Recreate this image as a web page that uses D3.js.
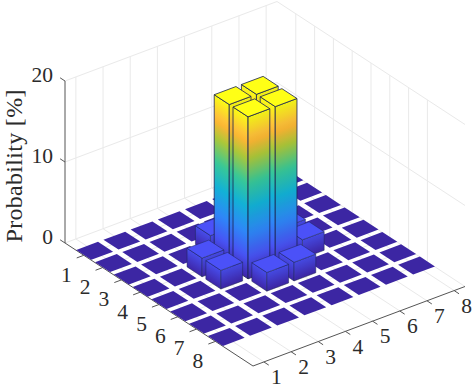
<!DOCTYPE html>
<html>
<head>
<meta charset="utf-8">
<script src="https://cdn.jsdelivr.net/npm/d3@7"></script>
<style>
  html, body { margin: 0; padding: 0; background: #fff; }
  svg { display: block; }
  text { font-family: "Liberation Serif", serif; fill: #2b2b2b; }
</style>
</head>
<body>
<div id="chart"></div>
<script>
const xTicks = [1, 2, 3, 4, 5, 6, 7, 8];
const yTicks = [1, 2, 3, 4, 5, 6, 7, 8];
const zTicks = [0, 10, 20];
const zLabel = 'Probability [%]';

// probability per cell, rows are x = 1..8, columns are y = 1..8
const probability = [
  [0.05, 0.05, 0.05, 0.05, 0.05, 0.05, 0.05, 0.05],
  [0.05, 0.05, 0.05, 0.05, 0.05, 0.05, 0.05, 0.05],
  [0.05, 0.05, 0.05, 2.3, 2.3, 0.05, 0.05, 0.05],
  [0.05, 0.05, 2.3, 20, 20, 2.3, 0.05, 0.05],
  [0.05, 0.05, 2.3, 20, 20, 2.3, 0.05, 0.05],
  [0.05, 0.05, 0.05, 2.3, 2.3, 0.05, 0.05, 0.05],
  [0.05, 0.05, 0.05, 0.05, 0.05, 0.05, 0.05, 0.05],
  [0.05, 0.05, 0.05, 0.05, 0.05, 0.05, 0.05, 0.05]
];

const parulaColors = ['#3e26a8', '#4852f4', '#2e87f7', '#12b1d6', '#37c897', '#abc739', '#fab733', '#fec338', '#f9fb15'];
const parulaLevels = [0, 2.6, 5.6, 8.8, 11.8, 14.8, 16.8, 17.6, 20];

const width = 474;
const height = 389;
const barWidth = 0.8;

const svg = d3.select('#chart').append('svg')
  .attr('width', width)
  .attr('height', height);
const defs = svg.append('defs');

// each data axis gives its share of the screen vector, added up in project()
const xSx = d3.scaleLinear().domain([0, 10]).range([0, 188]);
const xSy = d3.scaleLinear().domain([0, 10]).range([0, 123]);
const ySx = d3.scaleLinear().domain([0.6, 8.4]).range([0, 212]);
const ySy = d3.scaleLinear().domain([0.6, 8.4]).range([0, -79.5]);
const zS = d3.scaleLinear().domain([0, 20]).range([0, -162]);
const origin = [65, 243];

const parula = d3.scaleLinear()
  .domain(parulaLevels)
  .range(parulaColors)
  .interpolate(d3.interpolateRgb);

function project(x, y, z) {
  return [origin[0] + xSx(x) + ySx(y), origin[1] + xSy(x) + ySy(y) + zS(z)];
}

const line = d3.line();
const poly = pts => line(pts) + 'Z';

const xMin = 0, xMax = 10, yMin = 0.6, yMax = 8.4;

// grid on the two walls and the floor
const grid = svg.append('g')
  .attr('fill', 'none')
  .attr('stroke', '#e9e9e9')
  .attr('stroke-width', 1);

zTicks.forEach(z => {
  grid.append('path').attr('d', line([project(xMin, yMin, z), project(xMin, yMax, z), project(xMax, yMax, z)]));
});
xTicks.forEach(x => {
  grid.append('path').attr('d', line([project(x, yMin, 0), project(x, yMax, 0), project(x, yMax, 20)]));
});
yTicks.forEach(y => {
  grid.append('path').attr('d', line([project(xMax, y, 0), project(xMin, y, 0), project(xMin, y, 20)]));
});

// axis lines, ticks and labels
const axes = svg.append('g')
  .attr('fill', 'none')
  .attr('stroke', '#555')
  .attr('stroke-width', 1);

axes.append('path').attr('d', line([project(xMin, yMin, 20), project(xMin, yMin, 0), project(xMax, yMin, 0), project(xMax, yMax, 0)]));

const tickLen = 0.26;
xTicks.forEach(x => {
  axes.append('path').attr('d', line([project(x, yMin, 0), project(x, yMin - tickLen, 0)]));
});
yTicks.forEach(y => {
  axes.append('path').attr('d', line([project(xMax, y, 0), project(xMax + tickLen, y, 0)]));
});
zTicks.forEach(z => {
  axes.append('path').attr('d', line([project(xMin, yMin, z), project(xMin - tickLen, yMin, z)]));
});

const labels = svg.append('g').attr('font-size', 21.5);

xTicks.forEach(x => {
  const p = project(x, yMin, 0);
  labels.append('text').attr('x', p[0] - 17.5).attr('y', p[1] + 19)
    .attr('dy', '0.34em').attr('text-anchor', 'middle').text(x);
});
yTicks.forEach(y => {
  const p = project(xMax, y, 0);
  labels.append('text').attr('x', p[0] + 12.5).attr('y', p[1] + 15)
    .attr('dy', '0.34em').attr('text-anchor', 'middle').text(y);
});
zTicks.forEach(z => {
  const p = project(xMin, yMin, z);
  labels.append('text').attr('x', p[0] - 12).attr('y', p[1] - 6)
    .attr('dy', '0.34em').attr('text-anchor', 'end').text(z);
});

svg.append('text')
  .attr('transform', 'translate(21.5,166) rotate(-90)')
  .attr('text-anchor', 'middle')
  .attr('font-size', 24)
  .attr('textLength', 153)
  .text(zLabel);

// flatten the cells into one list and paint back to front
const cells = [];
probability.forEach((row, i) => {
  row.forEach((value, j) => {
    cells.push({ x: xTicks[i], y: yTicks[j], value });
  });
});
cells.sort((a, b) => (a.x - a.y) - (b.x - b.y));

// gradient whose colour bands run parallel to the bottom edge of the face
function faceGradient(id, a, b, h, shade) {
  const p0 = project(a[0], a[1], 0);
  const p1 = project(b[0], b[1], 0);
  const ex = p1[0] - p0[0], ey = p1[1] - p0[1];
  const len = Math.hypot(ex, ey);
  const nx = -ey / len, ny = ex / len;
  const up = zS(h);
  const d = up * ny;
  const grad = defs.append('linearGradient')
    .attr('id', id)
    .attr('gradientUnits', 'userSpaceOnUse')
    .attr('x1', p0[0]).attr('y1', p0[1])
    .attr('x2', p0[0] + nx * d).attr('y2', p0[1] + ny * d);
  d3.range(0, 1.001, 0.02).forEach(t => {
    grad.append('stop')
      .attr('offset', t)
      .attr('stop-color', d3.rgb(parula(h * t)).darker(shade).formatHex());
  });
  return `url(#${id})`;
}

const bars = svg.append('g')
  .attr('stroke-linejoin', 'round');

cells.forEach((c, i) => {
  const x0 = c.x - barWidth / 2, x1 = c.x + barWidth / 2;
  const y0 = c.y - barWidth / 2, y1 = c.y + barWidth / 2;
  const h = c.value;
  const tall = h > 1;
  const g = bars.append('g')
    .attr('stroke', tall ? '#1c2450' : 'none')
    .attr('stroke-width', h > 10 ? 0.9 : 0.7)
    .attr('stroke-opacity', h > 10 ? 0.9 : 0.7);
  if (tall) {
    g.append('path')
      .attr('d', poly([project(x0, y0, 0), project(x1, y0, 0), project(x1, y0, h), project(x0, y0, h)]))
      .attr('fill', faceGradient('f' + i, [x0, y0], [x1, y0], h, 0));
    g.append('path')
      .attr('d', poly([project(x1, y0, 0), project(x1, y1, 0), project(x1, y1, h), project(x1, y0, h)]))
      .attr('fill', faceGradient('s' + i, [x1, y0], [x1, y1], h, 0.1));
  }
  const topColor = d3.rgb(parula(h));
  g.append('path')
    .attr('d', poly([project(x0, y0, h), project(x1, y0, h), project(x1, y1, h), project(x0, y1, h)]))
    .attr('fill', (tall ? topColor.brighter(0.15) : topColor.darker(0.1)).formatHex());
});
</script>
</body>
</html>
